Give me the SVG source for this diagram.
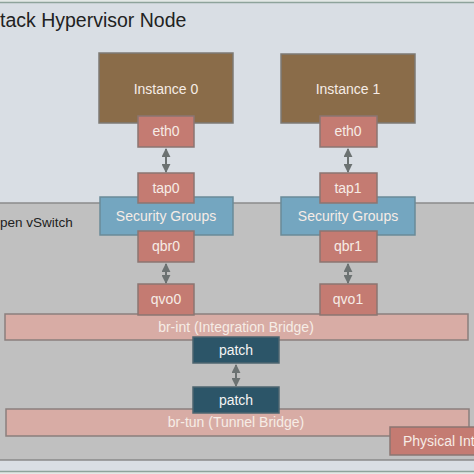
<svg xmlns="http://www.w3.org/2000/svg" width="474" height="474" viewBox="0 0 474 474">
<defs>
<style>
text{font-family:"Liberation Sans","Open Sans",sans-serif;}
.inst{fill:#8a6c49;stroke:#7d7a74;stroke-width:1.5;}
.port{fill:#c47b72;stroke:#8b7572;stroke-width:1.5;}
.sg{fill:#74a6c0;stroke:#6a8a98;stroke-width:1.5;}
.br{fill:#d8aca5;stroke:#8a7f7d;stroke-width:1.5;}
.patch{fill:#2c5568;stroke:#4e6670;stroke-width:1.5;}
.lt{fill:#f6ece6;font-size:14px;text-anchor:middle;}
.wt{fill:#f4f4f4;font-size:14px;text-anchor:middle;}
.conn{stroke:#6c7272;stroke-width:2;fill:none;marker-start:url(#ah);marker-end:url(#ah);}
</style>
<marker id="ah" viewBox="0 0 10 10" refX="9" refY="5" markerWidth="4.5" markerHeight="4.5" orient="auto-start-reverse" markerUnits="strokeWidth">
<path d="M0,0 L10,5 L0,10 z" fill="#6c7272"/>
</marker>
</defs>
<rect x="0" y="0" width="474" height="474" fill="#e3e8e6"/>
<g id="hypervisor">
<rect x="-10" y="2.5" width="494" height="469" fill="#d9dee4" stroke="#8ea39b" stroke-width="1.5"/>
<text x="0" y="27" font-size="19.5" fill="#222">tack Hypervisor Node</text>
</g>
<g id="ovs">
<rect x="-10" y="203" width="494" height="257" fill="#c0c0c0" stroke="#8a8a8a" stroke-width="1.5"/>
<text x="0" y="227" font-size="13.5" fill="#222">pen vSwitch</text>
</g>
<g id="instance0">
<rect class="inst" x="99" y="53" width="134" height="70"/>
<text class="lt" x="166" y="94">Instance 0</text>
</g>
<g id="instance1">
<rect class="inst" x="281" y="54" width="134" height="69"/>
<text class="lt" x="348" y="94">Instance 1</text>
</g>
<g id="eth0-0">
<rect class="port" x="138" y="116" width="56" height="31"/>
<text class="lt" x="166" y="136">eth0</text>
</g>
<g id="eth0-1">
<rect class="port" x="320" y="116" width="57" height="31"/>
<text class="lt" x="348" y="136">eth0</text>
</g>
<g id="sg0">
<rect class="sg" x="100" y="197" width="133" height="38"/>
<text class="lt" x="166" y="221">Security Groups</text>
</g>
<g id="sg1">
<rect class="sg" x="281" y="197" width="134" height="38"/>
<text class="lt" x="348" y="221">Security Groups</text>
</g>
<g id="tap0">
<rect class="port" x="138" y="173" width="56" height="30"/>
<text class="lt" x="166" y="193">tap0</text>
</g>
<g id="tap1">
<rect class="port" x="320" y="173" width="57" height="30"/>
<text class="lt" x="348" y="193">tap1</text>
</g>
<g id="qbr0">
<rect class="port" x="138" y="231" width="56" height="31"/>
<text class="lt" x="166" y="251">qbr0</text>
</g>
<g id="qbr1">
<rect class="port" x="320" y="231" width="57" height="31"/>
<text class="lt" x="348" y="251">qbr1</text>
</g>
<g id="br-int">
<rect class="br" x="5" y="314" width="463" height="26"/>
<text class="lt" x="236" y="332">br-int (Integration Bridge)</text>
</g>
<g id="qvo0">
<rect class="port" x="138" y="284" width="56" height="31"/>
<text class="lt" x="166" y="304">qvo0</text>
</g>
<g id="qvo1">
<rect class="port" x="320" y="284" width="57" height="31"/>
<text class="lt" x="348" y="304">qvo1</text>
</g>
<g id="br-tun">
<rect class="br" x="6" y="409" width="463" height="27"/>
<text class="lt" x="236" y="427">br-tun (Tunnel Bridge)</text>
</g>
<g id="patch-int">
<rect class="patch" x="193" y="337" width="86" height="26"/>
<text class="wt" x="236" y="355">patch</text>
</g>
<g id="patch-tun">
<rect class="patch" x="193" y="387" width="86" height="26"/>
<text class="wt" x="236" y="405">patch</text>
</g>
<g id="physical">
<rect class="port" x="390" y="427" width="100" height="28"/>
<text class="lt" x="403" y="446" style="text-anchor:start">Physical Int</text>
</g>
<g id="connectors">
<line class="conn" x1="166" y1="149" x2="166" y2="172"/>
<line class="conn" x1="348" y1="149" x2="348" y2="172"/>
<line class="conn" x1="166" y1="264" x2="166" y2="283"/>
<line class="conn" x1="348" y1="264" x2="348" y2="283"/>
<line class="conn" x1="236" y1="365" x2="236" y2="386"/>
</g>
</svg>
